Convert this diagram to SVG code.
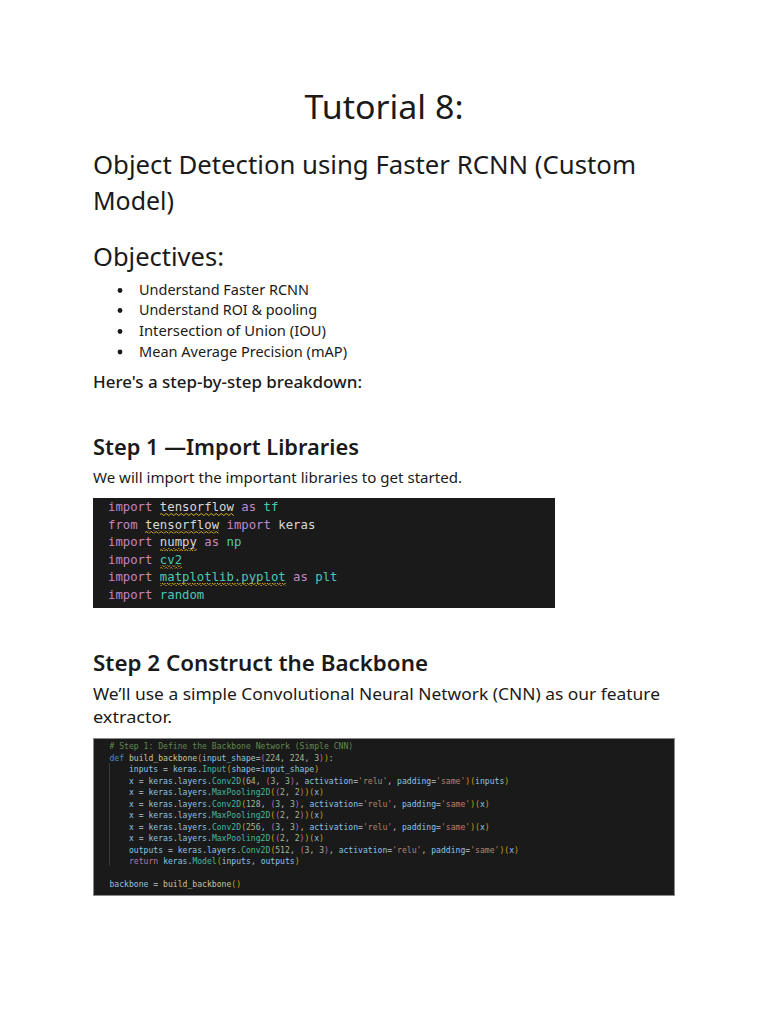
<svg xmlns="http://www.w3.org/2000/svg" width="768" height="1024" viewBox="0 0 768 1024">
<style>
text{font-family:"Noto Sans","Open Sans","Liberation Sans",sans-serif;fill:#1a1a1a;white-space:pre}
.b{font-weight:600}
.m{font-weight:500}
.c1,.c2{font-family:"DejaVu Sans Mono","Liberation Mono",monospace;fill:#d4d4d4}
.c1{font-size:12.3px}.c2{font-size:8.1px;opacity:.88}
.k{fill:#c586c0}.t{fill:#4ec9b0}.w{fill:#d8d8d8}.g{fill:#6a9955}.d{fill:#569cd6}.f{fill:#dcdcaa}.v{fill:#9cdcfe}.n{fill:#b5cea8}.s{fill:#ce9178}.y{fill:#e0b000}.p{fill:#da70d6}.u{fill:#3f9fe8}
</style>
<defs><pattern id="wave" width="5" height="3" patternUnits="userSpaceOnUse"><path d="M0 1.5L1.250 .4L3.750 2.600L5 1.500" fill="none" stroke="#d9ae1f" stroke-width="1"/></pattern></defs>
<rect width="768" height="1024" fill="#fff"/>
<g id="title">
<text x="384" y="119" font-size="33" text-anchor="middle" textLength="159" lengthAdjust="spacingAndGlyphs">Tutorial 8:</text>
<text x="93" y="174" font-size="25.500" textLength="543" lengthAdjust="spacingAndGlyphs">Object Detection using Faster RCNN (Custom</text>
<text x="93" y="210" font-size="25.500" textLength="81" lengthAdjust="spacingAndGlyphs">Model)</text>
<text x="93" y="266" font-size="25.500" textLength="131" lengthAdjust="spacingAndGlyphs">Objectives:</text>
</g>
<g id="objectives">
<circle cx="120" cy="290.500" r="2.400" fill="#1a1a1a"/><circle cx="120" cy="310.500" r="2.400" fill="#1a1a1a"/><circle cx="120" cy="331.500" r="2.400" fill="#1a1a1a"/><circle cx="120" cy="352" r="2.400" fill="#1a1a1a"/>
<text x="139" y="295" font-size="14.500" textLength="170" lengthAdjust="spacingAndGlyphs">Understand Faster RCNN</text>
<text x="139" y="315" font-size="14.500" textLength="178" lengthAdjust="spacingAndGlyphs">Understand ROI &amp; pooling</text>
<text x="139" y="336" font-size="14.500" textLength="187" lengthAdjust="spacingAndGlyphs">Intersection of Union (IOU)</text>
<text x="139" y="357" font-size="14.500" textLength="208" lengthAdjust="spacingAndGlyphs">Mean Average Precision (mAP)</text>
<text x="93" y="388" font-size="16.500" class="m" textLength="269" lengthAdjust="spacingAndGlyphs">Here's a step-by-step breakdown:</text>
</g>
<g id="step1">
<text x="93" y="455" font-size="21.500" class="b" textLength="266" lengthAdjust="spacingAndGlyphs">Step 1 —Import Libraries</text>
<text x="93" y="483" font-size="15" textLength="369" lengthAdjust="spacingAndGlyphs">We will import the important libraries to get started.</text>
<rect x="93" y="498" width="462" height="110" fill="#1a1a1a"/>
<text class="c1" x="108" y="511"><tspan class="k">import</tspan> <tspan class="w">tensorflow</tspan> <tspan class="k">as</tspan> <tspan class="t">tf</tspan></text>
<text class="c1" x="108" y="528.500"><tspan class="k">from</tspan> <tspan class="w">tensorflow</tspan> <tspan class="k">import</tspan> <tspan class="w">keras</tspan></text>
<text class="c1" x="108" y="546"><tspan class="k">import</tspan> <tspan class="w">numpy</tspan> <tspan class="k">as</tspan> <tspan class="t">np</tspan></text>
<text class="c1" x="108" y="563.500"><tspan class="k">import</tspan> <tspan class="t">cv2</tspan></text>
<text class="c1" x="108" y="581"><tspan class="k">import</tspan> <tspan class="t">matplotlib.pyplot</tspan> <tspan class="k">as</tspan> <tspan class="t">plt</tspan></text>
<text class="c1" x="108" y="598.500"><tspan class="k">import</tspan> <tspan class="t">random</tspan></text>
<rect x="160" y="513" width="74" height="3" fill="url(#wave)"/>
<rect x="145" y="530.500" width="74" height="3" fill="url(#wave)"/>
<rect x="160" y="548" width="37" height="3" fill="url(#wave)"/>
<rect x="160" y="565.500" width="22" height="3" fill="url(#wave)"/>
<rect x="160" y="583" width="126" height="3" fill="url(#wave)"/>
</g>
<g id="step2">
<text x="93" y="670.500" font-size="21.500" class="b" textLength="335" lengthAdjust="spacingAndGlyphs">Step 2 Construct the Backbone</text>
<text x="93" y="699.500" font-size="17" textLength="567" lengthAdjust="spacingAndGlyphs">We’ll use a simple Convolutional Neural Network (CNN) as our feature</text>
<text x="93" y="722.500" font-size="17" textLength="79" lengthAdjust="spacingAndGlyphs">extractor.</text>
<rect x="93.500" y="738.500" width="581" height="157" fill="#1a1a1a" stroke="#8a8a8a" stroke-width="1"/>
<path d="M109.500 763V866" stroke="#3a3a3a" stroke-width="1"/>
<text class="c2" x="109.500" y="749"><tspan class="g"># Step 1: Define the Backbone Network (Simple CNN)</tspan></text>
<text class="c2" x="109.500" y="760.500"><tspan class="d">def</tspan> <tspan class="f">build_backbone</tspan><tspan class="y">(</tspan><tspan class="v">input_shape</tspan>=<tspan class="p">(</tspan><tspan class="n">224</tspan>, <tspan class="n">224</tspan>, <tspan class="n">3</tspan><tspan class="p">)</tspan><tspan class="y">)</tspan>:</text>
<text class="c2" x="129" y="772"><tspan class="v">inputs</tspan> = <tspan class="v">keras</tspan>.<tspan class="t">Input</tspan><tspan class="y">(</tspan><tspan class="v">shape</tspan>=<tspan class="v">input_shape</tspan><tspan class="y">)</tspan></text>
<text class="c2" x="129" y="783.500"><tspan class="v">x</tspan> = <tspan class="v">keras</tspan>.<tspan class="v">layers</tspan>.<tspan class="t">Conv2D</tspan><tspan class="y">(</tspan><tspan class="n">64</tspan>, <tspan class="p">(</tspan><tspan class="n">3</tspan>, <tspan class="n">3</tspan><tspan class="p">)</tspan>, <tspan class="v">activation</tspan>=<tspan class="s">'relu'</tspan>, <tspan class="v">padding</tspan>=<tspan class="s">'same'</tspan><tspan class="y">)(</tspan><tspan class="v">inputs</tspan><tspan class="y">)</tspan></text>
<text class="c2" x="129" y="795"><tspan class="v">x</tspan> = <tspan class="v">keras</tspan>.<tspan class="v">layers</tspan>.<tspan class="t">MaxPooling2D</tspan><tspan class="y">(</tspan><tspan class="p">(</tspan><tspan class="n">2</tspan>, <tspan class="n">2</tspan><tspan class="p">)</tspan><tspan class="y">)(</tspan><tspan class="v">x</tspan><tspan class="y">)</tspan></text>
<text class="c2" x="129" y="806.500"><tspan class="v">x</tspan> = <tspan class="v">keras</tspan>.<tspan class="v">layers</tspan>.<tspan class="t">Conv2D</tspan><tspan class="y">(</tspan><tspan class="n">128</tspan>, <tspan class="p">(</tspan><tspan class="n">3</tspan>, <tspan class="n">3</tspan><tspan class="p">)</tspan>, <tspan class="v">activation</tspan>=<tspan class="s">'relu'</tspan>, <tspan class="v">padding</tspan>=<tspan class="s">'same'</tspan><tspan class="y">)(</tspan><tspan class="v">x</tspan><tspan class="y">)</tspan></text>
<text class="c2" x="129" y="818"><tspan class="v">x</tspan> = <tspan class="v">keras</tspan>.<tspan class="v">layers</tspan>.<tspan class="t">MaxPooling2D</tspan><tspan class="y">(</tspan><tspan class="p">(</tspan><tspan class="n">2</tspan>, <tspan class="n">2</tspan><tspan class="p">)</tspan><tspan class="y">)(</tspan><tspan class="v">x</tspan><tspan class="y">)</tspan></text>
<text class="c2" x="129" y="829.500"><tspan class="v">x</tspan> = <tspan class="v">keras</tspan>.<tspan class="v">layers</tspan>.<tspan class="t">Conv2D</tspan><tspan class="y">(</tspan><tspan class="n">256</tspan>, <tspan class="p">(</tspan><tspan class="n">3</tspan>, <tspan class="n">3</tspan><tspan class="p">)</tspan>, <tspan class="v">activation</tspan>=<tspan class="s">'relu'</tspan>, <tspan class="v">padding</tspan>=<tspan class="s">'same'</tspan><tspan class="y">)(</tspan><tspan class="v">x</tspan><tspan class="y">)</tspan></text>
<text class="c2" x="129" y="841"><tspan class="v">x</tspan> = <tspan class="v">keras</tspan>.<tspan class="v">layers</tspan>.<tspan class="t">MaxPooling2D</tspan><tspan class="y">(</tspan><tspan class="p">(</tspan><tspan class="n">2</tspan>, <tspan class="n">2</tspan><tspan class="p">)</tspan><tspan class="y">)(</tspan><tspan class="v">x</tspan><tspan class="y">)</tspan></text>
<text class="c2" x="129" y="852.500"><tspan class="v">outputs</tspan> = <tspan class="v">keras</tspan>.<tspan class="v">layers</tspan>.<tspan class="t">Conv2D</tspan><tspan class="y">(</tspan><tspan class="n">512</tspan>, <tspan class="p">(</tspan><tspan class="n">3</tspan>, <tspan class="n">3</tspan><tspan class="p">)</tspan>, <tspan class="v">activation</tspan>=<tspan class="s">'relu'</tspan>, <tspan class="v">padding</tspan>=<tspan class="s">'same'</tspan><tspan class="y">)(</tspan><tspan class="v">x</tspan><tspan class="y">)</tspan></text>
<text class="c2" x="129" y="864"><tspan class="k">return</tspan> <tspan class="v">keras</tspan>.<tspan class="t">Model</tspan><tspan class="y">(</tspan><tspan class="v">inputs</tspan>, <tspan class="v">outputs</tspan><tspan class="y">)</tspan></text>
<text class="c2" x="109.500" y="887"><tspan class="v">backbone</tspan> = <tspan class="f">build_backbone</tspan><tspan class="y">()</tspan></text>
</g>
</svg>
